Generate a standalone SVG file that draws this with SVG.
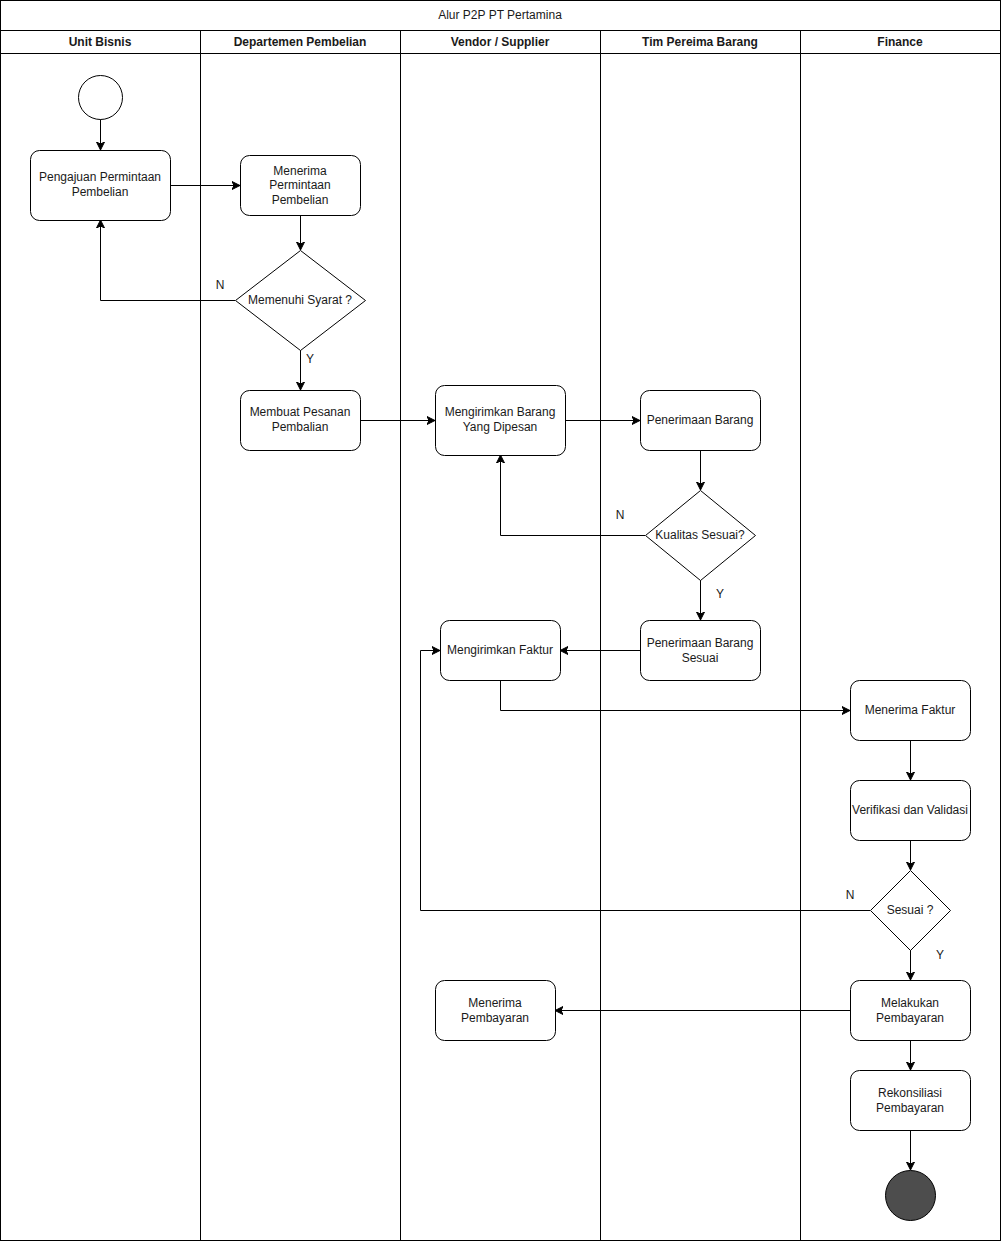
<svg xmlns="http://www.w3.org/2000/svg" width="1001" height="1241" viewBox="0 0 1001 1241">
<style>
.box{fill:#fff;stroke:#000;stroke-width:1}
.ln{fill:none;stroke:#000;stroke-width:1}
.t{font-family:"Liberation Sans",Arial,sans-serif;font-size:12px;fill:#1a1a1a;text-anchor:middle}
.h{font-weight:bold}
.e{fill:none;stroke:#000;stroke-width:1}
</style>
<defs>
<marker id="arr" markerUnits="userSpaceOnUse" markerWidth="10" markerHeight="10" refX="8" refY="5" orient="auto">
<path d="M0,1 L8,5 L0,9 L2,5 z" fill="#000" stroke="#000" stroke-width="1"/>
</marker>
</defs>
<rect x="0" y="0" width="1001" height="1241" fill="#fff"/>
<g id="pool">
<rect class="ln" x="0.5" y="0.5" width="1000" height="1240"/>
<line class="ln" x1="0" y1="30.5" x2="1001" y2="30.5"/>
<line class="ln" x1="0" y1="53.5" x2="1001" y2="53.5"/>
<line class="ln" x1="200.5" y1="30" x2="200.5" y2="1241"/>
<line class="ln" x1="400.5" y1="30" x2="400.5" y2="1241"/>
<line class="ln" x1="600.5" y1="30" x2="600.5" y2="1241"/>
<line class="ln" x1="800.5" y1="30" x2="800.5" y2="1241"/>
<text class="t" x="500" y="19">Alur P2P PT Pertamina</text>
<text class="t h" x="100" y="46">Unit Bisnis</text>
<text class="t h" x="300" y="46">Departemen Pembelian</text>
<text class="t h" x="500" y="46">Vendor / Supplier</text>
<text class="t h" x="700" y="46">Tim Pereima Barang</text>
<text class="t h" x="900" y="46">Finance</text>
</g>
<g id="edges">
<path class="e" d="M100.5,119 L100.5,150" marker-end="url(#arr)"/>
<path class="e" d="M170,185.5 L240,185.5" marker-end="url(#arr)"/>
<path class="e" d="M300.5,215 L300.5,250" marker-end="url(#arr)"/>
<path class="e" d="M235,300.5 L100.5,300.5 L100.5,220" marker-end="url(#arr)"/>
<path class="e" d="M300.5,350 L300.5,390" marker-end="url(#arr)"/>
<path class="e" d="M360,420.5 L435,420.5" marker-end="url(#arr)"/>
<path class="e" d="M565,420.5 L640,420.5" marker-end="url(#arr)"/>
<path class="e" d="M700.5,450 L700.5,490" marker-end="url(#arr)"/>
<path class="e" d="M645,535.5 L500.5,535.5 L500.5,455" marker-end="url(#arr)"/>
<path class="e" d="M700.5,580 L700.5,620" marker-end="url(#arr)"/>
<path class="e" d="M640,650.5 L560,650.5" marker-end="url(#arr)"/>
<path class="e" d="M500.5,680 L500.5,710.5 L850,710.5" marker-end="url(#arr)"/>
<path class="e" d="M910.5,740 L910.5,780" marker-end="url(#arr)"/>
<path class="e" d="M910.5,840 L910.5,870" marker-end="url(#arr)"/>
<path class="e" d="M870,910.5 L420.5,910.5 L420.5,650.5 L440,650.5" marker-end="url(#arr)"/>
<path class="e" d="M910.5,950 L910.5,980" marker-end="url(#arr)"/>
<path class="e" d="M850,1010.5 L555,1010.5" marker-end="url(#arr)"/>
<path class="e" d="M910.5,1040 L910.5,1070" marker-end="url(#arr)"/>
<path class="e" d="M910.5,1130 L910.5,1170" marker-end="url(#arr)"/>
<text class="t" x="220" y="289">N</text>
<text class="t" x="310" y="363">Y</text>
<text class="t" x="620" y="519">N</text>
<text class="t" x="720" y="598">Y</text>
<text class="t" x="850" y="899">N</text>
<text class="t" x="940" y="959">Y</text>
</g>
<g id="start"><circle class="box" cx="100.5" cy="97.5" r="22"/></g>
<g id="n1"><rect class="box" x="30.5" y="150.5" width="140" height="70" rx="9"/>
<text class="t" x="100" y="181">Pengajuan Permintaan</text><text class="t" x="100" y="196">Pembelian</text></g>
<g id="n2"><rect class="box" x="240.5" y="155.5" width="120" height="60" rx="9"/>
<text class="t" x="300" y="175">Menerima</text><text class="t" x="300" y="189">Permintaan</text><text class="t" x="300" y="204">Pembelian</text></g>
<g id="d1"><path class="box" d="M300.5,250.5 L365.5,300.5 L300.5,350.5 L235.5,300.5 Z"/>
<text class="t" x="300" y="304">Memenuhi Syarat ?</text></g>
<g id="n3"><rect class="box" x="240.5" y="390.5" width="120" height="60" rx="9"/>
<text class="t" x="300" y="416">Membuat Pesanan</text><text class="t" x="300" y="431">Pembalian</text></g>
<g id="n4"><rect class="box" x="435.5" y="385.5" width="130" height="70" rx="9"/>
<text class="t" x="500" y="416">Mengirimkan Barang</text><text class="t" x="500" y="431">Yang Dipesan</text></g>
<g id="n5"><rect class="box" x="640.5" y="390.5" width="120" height="60" rx="9"/>
<text class="t" x="700" y="424">Penerimaan Barang</text></g>
<g id="d2"><path class="box" d="M700.5,490.5 L755.5,535.5 L700.5,580.5 L645.5,535.5 Z"/>
<text class="t" x="700" y="539">Kualitas Sesuai?</text></g>
<g id="n6"><rect class="box" x="640.5" y="620.5" width="120" height="60" rx="9"/>
<text class="t" x="700" y="647">Penerimaan Barang</text><text class="t" x="700" y="662">Sesuai</text></g>
<g id="n7"><rect class="box" x="440.5" y="620.5" width="120" height="60" rx="9"/>
<text class="t" x="500" y="654">Mengirimkan Faktur</text></g>
<g id="n8"><rect class="box" x="850.5" y="680.5" width="120" height="60" rx="9"/>
<text class="t" x="910" y="714">Menerima Faktur</text></g>
<g id="n9"><rect class="box" x="850.5" y="780.5" width="120" height="60" rx="9"/>
<text class="t" x="910" y="814">Verifikasi dan Validasi</text></g>
<g id="d3"><path class="box" d="M910.5,870.5 L950.5,910.5 L910.5,950.5 L870.5,910.5 Z"/>
<text class="t" x="910" y="914">Sesuai ?</text></g>
<g id="n10"><rect class="box" x="850.5" y="980.5" width="120" height="60" rx="9"/>
<text class="t" x="910" y="1007">Melakukan</text><text class="t" x="910" y="1022">Pembayaran</text></g>
<g id="n11"><rect class="box" x="435.5" y="980.5" width="120" height="60" rx="9"/>
<text class="t" x="495" y="1007">Menerima</text><text class="t" x="495" y="1022">Pembayaran</text></g>
<g id="n12"><rect class="box" x="850.5" y="1070.5" width="120" height="60" rx="9"/>
<text class="t" x="910" y="1097">Rekonsiliasi</text><text class="t" x="910" y="1112">Pembayaran</text></g>
<g id="end"><circle cx="910.5" cy="1195.5" r="25" fill="#4d4d4d" stroke="#000" stroke-width="1"/></g>
</svg>
